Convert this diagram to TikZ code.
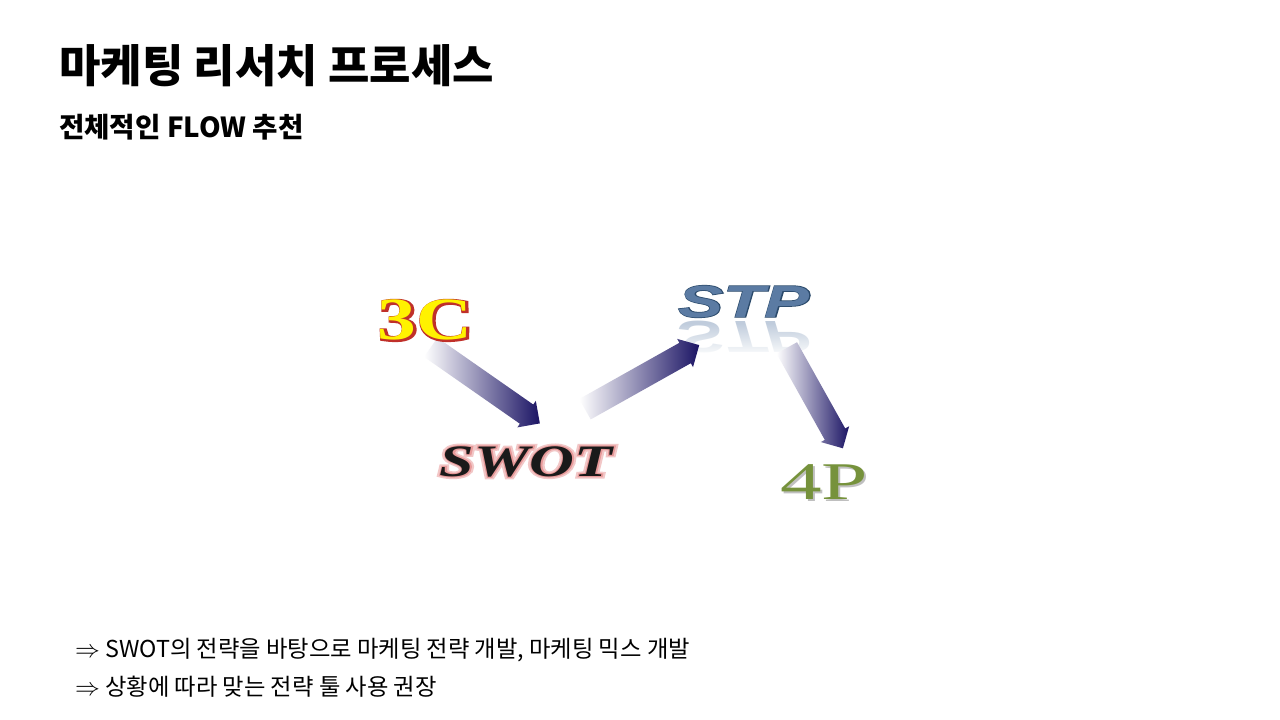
\documentclass[tikz,border=0pt]{standalone}
\usepackage{fontspec}
\usepackage{graphicx}
\usetikzlibrary{shapes.arrows,fadings,calc}
\newfontfamily\krblack{Noto Sans CJK KR Black}
\newfontfamily\kr{Noto Sans CJK KR}
\newfontfamily\serifR{Liberation Serif}
\newfontfamily\sansR{Liberation Sans}
\newfontfamily\threeCout{Liberation Serif Bold}[FakeBold=5]
\newfontfamily\swotglow{Liberation Serif Bold Italic}[FakeBold=12]
\newfontfamily\swotout{Liberation Serif Bold Italic}[FakeBold=5]
\newfontfamily\stpout{Liberation Sans Bold Italic}[FakeBold=3]
\definecolor{navy}{HTML}{1B1464}
\definecolor{cyellow}{HTML}{FFF200}
\definecolor{cred}{HTML}{C0302A}
\definecolor{cpink}{HTML}{E89A9A}
\definecolor{cswot}{HTML}{1A1A1A}
\definecolor{cstp}{HTML}{5B7BA3}
\definecolor{cstpdark}{HTML}{2B4A6B}
\definecolor{colive}{HTML}{76923C}
\tikzset{
  lbl/.style={anchor=base,inner sep=0pt},
  flowarrow/.style={single arrow, draw=none, left color=white, right color=navy,
    inner xsep=0pt, inner ysep=11.5pt, single arrow head extend=4.5pt, minimum width=0pt},
  kline/.style={anchor=base west,inner sep=0pt,font=\kr\fontsize{23.3}{23.3}\selectfont}
}
\begin{document}
\begin{tikzpicture}[x=1pt,y=-1pt]
\useasboundingbox (0,0) rectangle (1280,720);
\fill[white] (0,0) rectangle (1280,720);
% titles
\node[anchor=base west,inner sep=0pt,font=\krblack\fontsize{45}{45}\selectfont] (title) at (59,82) {마케팅 리서치 프로세스};
\node[anchor=base west,inner sep=0pt,font=\krblack\fontsize{27.6}{27.6}\selectfont] (subtitle) at (59,137) {전체적인 FLOW 추천};
% STP reflection
\node[lbl,text=cstp,opacity=0.38] (stpr) at (744,321) {\sansR\bfseries\itshape\fontsize{45}{45}\selectfont\scalebox{1.5}[-1]{STP}};
\fill[white,path fading=north] (660,323) rectangle (830,357);
% arrows
\coordinate (a1s) at (426,344); \coordinate (a1e) at (535,420);
\coordinate (a2s) at (580,412); \coordinate (a2e) at (694,348);
\coordinate (a3s) at (784,343); \coordinate (a3e) at (840,443);
\node[flowarrow,minimum height=133,rotate=-34.9] (ar1) at ($(a1s)!0.5!(a1e)$) {};
\node[flowarrow,minimum height=131,rotate=29.3] (ar2) at ($(a2s)!0.5!(a2e)$) {};
\node[flowarrow,minimum height=115,rotate=-60.8] (ar3) at ($(a3s)!0.5!(a3e)$) {};
% labels
\node[lbl,text=cred] (c3o) at (426,340) {\threeCout\fontsize{60}{60}\selectfont\scalebox{1.29}[1]{3C}};
\node[lbl,text=cyellow] (c3) at (425,339) {\serifR\bfseries\fontsize{60}{60}\selectfont\scalebox{1.29}[1]{3C}};
\node[lbl,text=cpink!55] (swg) at (526,476) {\swotglow\fontsize{45}{45}\selectfont\scalebox{1.38}[1]{SWOT}};
\node[lbl,text=cpink] (swo) at (526,476) {\swotout\fontsize{45}{45}\selectfont\scalebox{1.38}[1]{SWOT}};
\node[lbl,text=cswot] (swot) at (526,476) {\serifR\bfseries\itshape\fontsize{45}{45}\selectfont\scalebox{1.38}[1]{SWOT}};
\node[lbl,text=cstpdark] (stpo) at (744,317) {\stpout\fontsize{45}{45}\selectfont\scalebox{1.5}[1]{STP}};
\node[lbl,text=cstp] (stp) at (744,317) {\sansR\bfseries\itshape\fontsize{45}{45}\selectfont\scalebox{1.5}[1]{STP}};
\node[lbl,text=black,opacity=0.25] (fourps) at (826,501) {\serifR\fontsize{53}{53}\selectfont\scalebox{1.57}[1]{4P}};
\node[lbl,text=colive] (fourp) at (824,499) {\serifR\fontsize{53}{53}\selectfont\scalebox{1.57}[1]{4P}};
% bottom text
\node[kline] (l1) at (75,657) {$\Rightarrow$ SWOT의 전략을 바탕으로 마케팅 전략 개발, 마케팅 믹스 개발};
\node[kline] (l2) at (75,695) {$\Rightarrow$ 상황에 따라 맞는 전략 툴 사용 권장};
\end{tikzpicture}
\end{document}
